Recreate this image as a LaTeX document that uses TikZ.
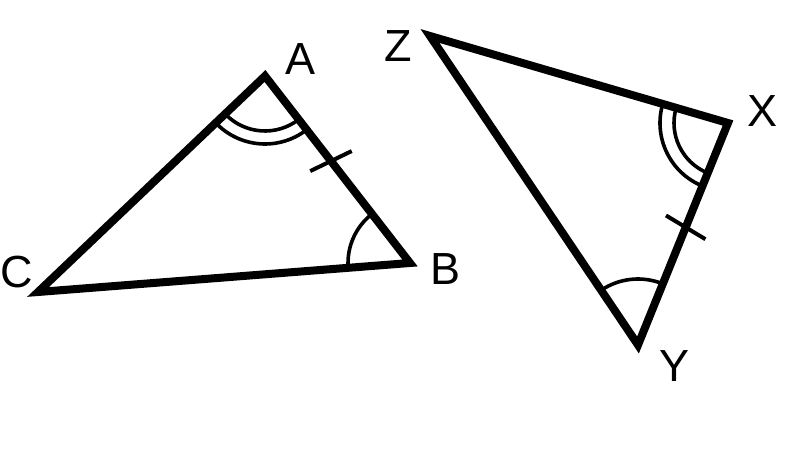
\documentclass[tikz,border=0pt]{standalone}
\usepackage{fontspec}
\setmainfont{Liberation Sans}
\usetikzlibrary{calc,angles}
\begin{document}
\begin{tikzpicture}[x=1pt,y=1pt,
  side/.style={line width=8pt,line join=miter,miter limit=20},
  arcmark/.style={line width=3.6pt},
  tickmark/.style={line width=4pt},
  lbl/.style={font=\fontsize{45}{45}\selectfont,inner sep=0pt}]
\useasboundingbox (0,0) rectangle (800,449);
% triangle ABC
\coordinate (A) at (265,373);
\coordinate (B) at (410,186);
\coordinate (C) at (38,157);
% triangle ZXY
\coordinate (Z) at (430,413);
\coordinate (X) at (728,326);
\coordinate (Y) at (638,104);
% angle marks
\pic[draw,arcmark,angle radius=55pt] {angle = C--A--B};
\pic[draw,arcmark,angle radius=68pt] {angle = C--A--B};
\pic[draw,arcmark,angle radius=62pt] {angle = A--B--C};
\pic[draw,arcmark,angle radius=54pt] {angle = Z--X--Y};
\pic[draw,arcmark,angle radius=68pt] {angle = Z--X--Y};
\pic[draw,arcmark,angle radius=66pt] {angle = X--Y--Z};
% tick marks
\coordinate (P) at ($(A)!0.455!(B)$);
\draw[tickmark] ($(P)!23pt!78:(B)$) -- ($(P)!23pt!-102:(B)$);
\coordinate (Q) at ($(X)!0.47!(Y)$);
\draw[tickmark] ($(Q)!23pt!81:(Y)$) -- ($(Q)!23pt!-99:(Y)$);
% sides
\draw[side] (A) -- (B) -- (C) -- cycle;
\draw[side] (Z) -- (X) -- (Y) -- cycle;
% labels
\node[lbl] (lA) at (301,390) {A};
\node[lbl] (lB) at (446,180) {B};
\node[lbl] (lC) at (17,177) {C};
\node[lbl] (lZ) at (398,403) {Z};
\node[lbl] (lX) at (762,338) {X};
\node[lbl] (lY) at (674,83) {Y};
\end{tikzpicture}
\end{document}
